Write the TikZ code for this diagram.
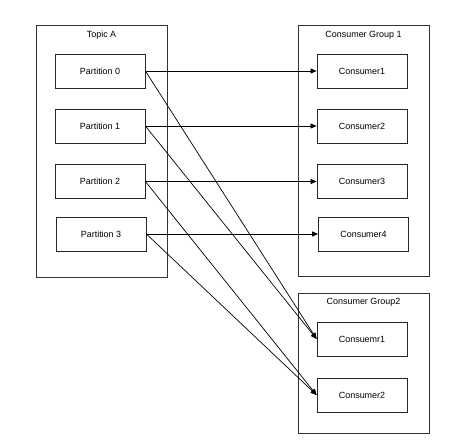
\documentclass[tikz,border=0pt]{standalone}
\usepackage{fontspec}
\setmainfont{Liberation Sans}
\usetikzlibrary{arrows.meta}
\begin{document}
\begin{tikzpicture}[x=1bp,y=-1bp,
  every node/.style={font=\fontsize{9}{11}\selectfont},
  frame/.style={draw=black!80,line width=0.8bp,fill=white},
  box/.style={draw=black!85,line width=0.8bp,minimum width=90bp,minimum height=34bp,inner sep=0pt},
  lbl/.style={inner sep=0pt},
  conn/.style={line width=0.7bp,-{Triangle[length=6bp,width=5bp]}}]
\useasboundingbox (0,0) rectangle (474,445);
\fill[white] (0,0) rectangle (474,445);
% frames
\draw[frame] (36,25) rectangle (167,277);
\draw[frame] (298,25) rectangle (429,276);
\draw[frame] (298,293) rectangle (429,433);
\node[lbl] (tA) at (101.5,35) {Topic A};
\node[lbl] (g1) at (363.5,35) {Consumer Group 1};
\node[lbl] (g2) at (363.5,302) {Consumer Group2};
% partitions
\node[box] (p0) at (100,71) {Partition 0};
\node[box] (p1) at (100,126) {Partition 1};
\node[box] (p2) at (100,181.5) {Partition 2};
\node[box] (p3) at (101,234) {Partition 3};
% consumers group 1
\node[box] (c1) at (362,71) {Consumer1};
\node[box] (c2) at (362,126) {Consumer2};
\node[box] (c3) at (362,181.5) {Consumer3};
\node[box] (c4) at (363.5,234) {Consumer4};
% consumers group 2
\node[box] (d1) at (362,339) {Consuemr1};
\node[box] (d2) at (362,395) {Consumer2};
% connectors
\draw[conn] (p0.east) -- (c1.west);
\draw[conn] (p1.east) -- (c2.west);
\draw[conn] (p2.east) -- (c3.west);
\draw[conn] (p3.east) -- (c4.west);
\draw[conn] (p0.east) -- (d1.west);
\draw[conn] (p1.east) -- (d1.west);
\draw[conn] (p2.east) -- (d2.west);
\draw[conn] (p3.east) -- (d2.west);
\end{tikzpicture}
\end{document}
